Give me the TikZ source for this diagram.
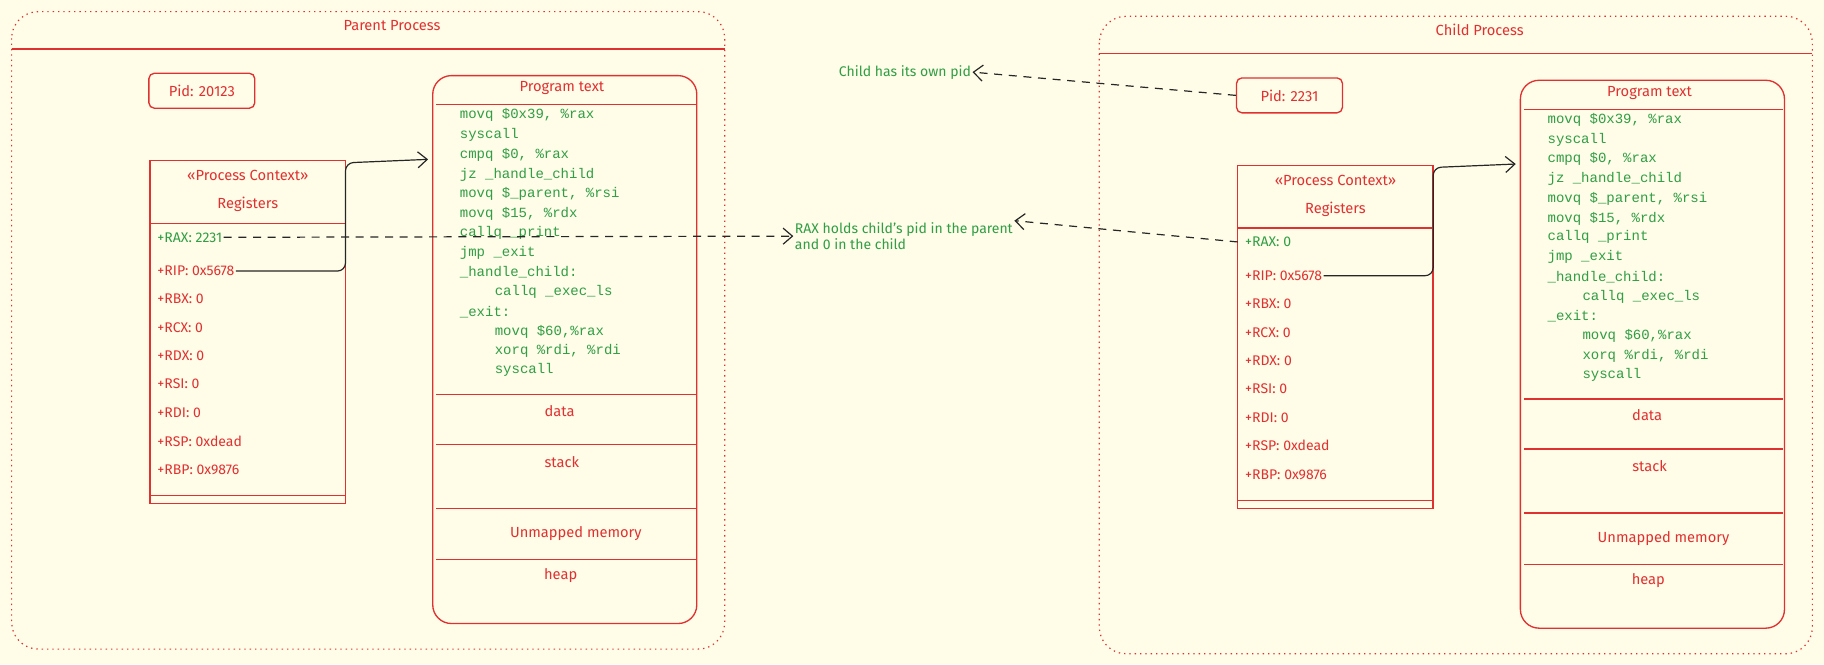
\documentclass[tikz,border=0pt]{standalone}
\usepackage{fontspec}
\setmainfont{Fira Sans}
\newfontfamily\codefont{Liberation Mono}
\usetikzlibrary{arrows.meta}
\definecolor{exred}{HTML}{E03131}
\definecolor{exgreen}{HTML}{2F9E44}
\definecolor{exbg}{HTML}{FFFCE8}
\tikzset{every picture/.style={line width=0.9pt}}
\tikzset{
  lbl/.style={text=exred,font=\fontsize{11}{13}\selectfont,inner sep=0.75pt},
  reg/.style={text=exred,font=\fontsize{10.5}{12}\selectfont,anchor=west,inner sep=0.75pt},
  regg/.style={reg,text=exgreen},
  code/.style={text=exgreen,font=\codefont\fontsize{10.5}{12}\selectfont,anchor=west,inner sep=0.75pt},
  note/.style={text=exgreen,font=\fontsize{10.5}{12.5}\selectfont,inner sep=0.75pt,align=left},
  redline/.style={draw=exred,line width=1pt},
  pidbox/.style={lbl,draw=exred,line width=1pt,rounded corners=4,minimum width=91*0.8724pt,minimum height=30*0.8724pt},
  ptr/.style={draw=black!85,line width=0.9pt,-{Straight Barb[length=7pt,width=12pt]}},
  dptr/.style={ptr,dash pattern=on 6pt off 5pt},
}
% one process: frame, pid box, registers and program text
\newcommand{\procdraw}[3]{%
  \draw [exred,dash pattern=on 1pt off 3pt,rounded corners=20] (10,10) rectangle (623,558);
  \draw [redline] (10,42) -- (623,42);
  \node [lbl] (title) at (337,22) {#1};
  \node [pidbox] (pid) at (173.5,78) {Pid: #2};
  % registers
  \draw [redline] (129,138) rectangle (297,433);
  \draw [redline] (129,192) -- (297,192);
  \draw [redline] (129,426) -- (297,426);
  \coordinate (regl) at (129,204);
  \node [lbl] (ctx) at (213,151) {«Process Context»};
  \node [lbl] (regs) at (213,176) {Registers};
  \node [regg] (rax) at (134,204) {+RAX: #3};
  \node [reg] (rip) at (134,233) {+RIP: 0x5678};
  \node [reg] (rbx) at (134,257) {+RBX: 0};
  \node [reg] (rcx) at (134,282) {+RCX: 0};
  \node [reg] (rdx) at (134,306) {+RDX: 0};
  \node [reg] (rsi) at (134,330) {+RSI: 0};
  \node [reg] (rdi) at (134,355) {+RDI: 0};
  \node [reg] (rsp) at (134,379) {+RSP: 0xdead};
  \node [reg] (rbp) at (134,404) {+RBP: 0x9876};
  % program text
  \draw [redline,rounded corners=14] (372,65) rectangle (599,536);
  \foreach \yy in {90,339,382,437,481} \draw [redline] (375,\yy) -- (598,\yy);
  \node [lbl] (text) at (483,76) {Program text};
  \node [code] (c1) at (394,99) {movq \$0x39, \%rax};
  \node [code] at (394,116) {syscall};
  \node [code] at (394,133) {cmpq \$0, \%rax};
  \node [code] at (394,150) {jz \_handle\_child};
  \node [code] at (394,167) {movq \$\_parent, \%rsi};
  \node [code] at (394,184) {movq \$15, \%rdx};
  \node [code] at (394,200) {callq \_print};
  \node [code] at (394,217) {jmp \_exit};
  \node [code] at (394,234) {\_handle\_child:};
  \node [code] at (424,251) {callq \_exec\_ls};
  \node [code] at (394,268) {\_exit:};
  \node [code] at (424,285) {movq \$60,\%rax};
  \node [code] at (424,302) {xorq \%rdi, \%rdi};
  \node [code] at (424,318) {syscall};
  \node [lbl] (data) at (481,353) {data};
  \node [lbl] (stack) at (483,397) {stack};
  \node [lbl] (unmapped) at (495,459) {Unmapped memory};
  \node [lbl] (heap) at (482,495) {heap};
  \coordinate (pt) at (368,137);
  \draw [ptr,rounded corners=6] (rip.east) -- (297,233) -- (297,140) -- (pt);
}

\begin{document}
\begin{tikzpicture}[x=0.8724pt,y=0.8724pt,yscale=-1,xscale=1]
\fill [exbg] (0,0) rectangle (1568,571);
\useasboundingbox (0,0) rectangle (1568,571);

\begin{scope}[name prefix=p-]
  \procdraw{Parent Process}{20123}{2231}
\end{scope}
\begin{scope}[shift={(935,4)},name prefix=c-]
  \procdraw{Child Process}{2231}{0}
\end{scope}

% notes
\node [note,anchor=west] (raxnote) at (682,203) {RAX holds child's pid in the parent\\and 0 in the child};
\node [note,anchor=east] (pidnote) at (836,62) {Child has its own pid};

\draw [dptr] (p-rax.east) -- (raxnote.west);
\draw [dptr] (c-regl) -- (raxnote.north east);
\draw [dptr] (c-pid.west) -- (pidnote.east);
\end{tikzpicture}
\end{document}
